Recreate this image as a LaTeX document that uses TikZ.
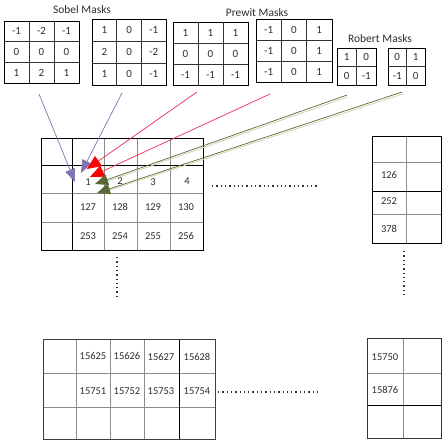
\documentclass[tikz,border=0pt]{standalone}
\usepackage{fontspec}
\setmainfont{Carlito}
\usetikzlibrary{arrows.meta,calc}
\definecolor{txt}{HTML}{2E2E2E}
\definecolor{gline}{HTML}{8C8C8C}
\definecolor{purp}{HTML}{7E76B0}
\definecolor{olivec}{HTML}{5A6834}
\definecolor{palec}{HTML}{C8D6B4}
\definecolor{redline}{HTML}{E8325A}
\newcommand{\drawmask}[7]{%
  \node[maskbox, minimum width=#6*#4, minimum height=#6*#5, anchor=north west] (#1) at (#2,#3) {};
  \foreach \k in {1,...,#6}{%
    \ifnum\k<#6
      \draw[mline] (#2+\k*#4,#3) -- (#2+\k*#4,#3+#6*#5);
      \draw[mline] (#2,#3+\k*#5) -- (#2+#6*#4,#3+\k*#5);
    \fi}
  \foreach \c/\r/\v in {#7}{%
    \node[masknum] (#1-\r-\c) at (#2+\c*#4-#4/2,#3+\r*#5-#5/2) {\v};}
}
\begin{document}
\begin{tikzpicture}[x=1pt,y=-1pt,
  num/.style={font=\fontsize{10.5}{12}\selectfont, text=txt, inner sep=0pt},
  masknum/.style={font=\fontsize{11}{13}\selectfont, text=txt, inner sep=0pt},
  titletxt/.style={font=\fontsize{11.5}{13}\selectfont, text=txt, inner sep=0pt},
  maskbox/.style={draw=black, line width=0.8pt, inner sep=0pt, outer sep=0pt},
  mline/.style={line width=0.7pt, draw=black!80},
  gl/.style={line width=0.6pt, draw=gline},
  bl/.style={line width=0.8pt, draw=black},
  dotsh/.style={line width=1.6pt, dash pattern=on 1.3pt off 3pt, draw=black!80},
  parr/.style={draw=purp, line width=0.7pt, -{Triangle[length=13pt,width=10pt]}},
  rarr/.style={draw=redline, line width=0.7pt, -{Triangle[length=14pt,width=12pt,color=red]}},
  oarr/.style={draw=olivec, line width=0.7pt, -{Triangle[length=13pt,width=11pt]}},
  oshadow/.style={draw=palec, line width=0.8pt}]
\useasboundingbox[fill=white] (0,0) rectangle (444,446);

% titles
\node[titletxt] (tsobel) at (82,10) {Sobel Masks};
\node[titletxt] (tprewit) at (257,13) {Prewit Masks};
\node[titletxt] (trobert) at (380,39) {Robert Masks};

% masks
\drawmask{sobA}{4}{21}{25}{20.7}{3}{1/1/-1,2/1/-2,3/1/-1,1/2/0,2/2/0,3/2/0,1/3/1,2/3/2,3/3/1}
\drawmask{sobB}{92}{19}{24.7}{22}{3}{1/1/1,2/1/0,3/1/-1,1/2/2,2/2/0,3/2/-2,1/3/1,2/3/0,3/3/-1}
\drawmask{preA}{173}{22}{25}{21.3}{3}{1/1/1,2/1/1,3/1/1,1/2/0,2/2/0,3/2/0,1/3/-1,2/3/-1,3/3/-1}
\drawmask{preB}{256}{19}{25.3}{21.3}{3}{1/1/-1,2/1/0,3/1/1,1/2/-1,2/2/0,3/2/1,1/3/-1,2/3/0,3/3/1}
\drawmask{robA}{337}{48}{19.5}{18.5}{2}{1/1/1,2/1/0,1/2/0,2/2/-1}
\drawmask{robB}{388}{48}{18.5}{18.5}{2}{1/1/0,2/1/1,1/2/-1,2/2/0}

% main grid
\foreach \xx in {104,137,170} \draw[gl] (\xx,138) -- (\xx,250);
\foreach \yy in {193,222} \draw[gl] (41,\yy) -- (203,\yy);
\draw[bl] (72,138) -- (72,250);
\draw[bl] (41,165) -- (203,165);
\draw[bl] (41,138) rectangle (203,250);
\node[num] (m1) at (88,182) {1};
\node[num] (m2) at (120,181) {2};
\node[num] (m3) at (153,182) {3};
\node[num] (m4) at (187,181) {4};
\node[num] (m127) at (88,207) {127};
\node[num] (m128) at (120,207) {128};
\node[num] (m129) at (153,207) {129};
\node[num] (m130) at (186,207) {130};
\node[num] (m253) at (88,236) {253};
\node[num] (m254) at (120,236) {254};
\node[num] (m255) at (153,236) {255};
\node[num] (m256) at (186,236) {256};

% top right grid
\draw[gl] (406,136) -- (406,243);
\foreach \yy in {162,214} \draw[gl] (372,\yy) -- (441,\yy);
\draw[bl] (372,191) -- (441,191);
\draw[bl] (372,136) rectangle (441,243);
\node[num] (r126) at (389,175) {126};
\node[num] (r252) at (389,201) {252};
\node[num] (r378) at (389,229) {378};

% bottom left grid
\foreach \xx in {76,110,144} \draw[gl] (\xx,339) -- (\xx,439);
\foreach \yy in {373,407} \draw[gl] (43,\yy) -- (215,\yy);
\draw[bl] (179,339) -- (179,439);
\draw[line width=0.7pt, draw=black!75] (43,339) rectangle (215,439);
\node[num] (b15625) at (93,356) {15625};
\node[num] (b15626) at (127,356) {15626};
\node[num] (b15627) at (161,357) {15627};
\node[num] (b15628) at (197,357) {15628};
\node[num] (b15751) at (93,391) {15751};
\node[num] (b15752) at (127,391) {15752};
\node[num] (b15753) at (161,391) {15753};
\node[num] (b15754) at (197,391) {15754};

% bottom right grid
\draw[gl] (403,338) -- (403,438);
\draw[gl] (367,373) -- (441,373);
\draw[bl] (367,405) -- (441,405);
\draw[line width=0.7pt, draw=black!80] (367,338) rectangle (441,438);
\node[num] (c15750) at (385,357) {15750};
\node[num] (c15876) at (385,390) {15876};

% dotted continuations
\coordinate (dh1a) at (212,186); \coordinate (dh1b) at (318,186);
\coordinate (dh2a) at (218,392); \coordinate (dh2b) at (318,392);
\coordinate (dv1a) at (117,257); \coordinate (dv1b) at (117,296);
\coordinate (dv2a) at (404,251); \coordinate (dv2b) at (404,297);
\draw[dotsh] (dh1a) -- (dh1b);
\draw[dotsh] (dh2a) -- (dh2b);
\draw[dotsh] (dv1a) -- (dv1b);
\draw[dotsh] (dv2a) -- (dv2b);

% arrow start / end points
\coordinate (sA) at (39,94);   \coordinate (eA) at (75,182);
\coordinate (sB) at (122,93);  \coordinate (eB) at (81,173);
\coordinate (sC) at (197,92);  \coordinate (eC) at (87,169);
\coordinate (sD) at (270,94);  \coordinate (eD) at (90,177);
\coordinate (sE) at (347,95);  \coordinate (eE) at (95,184);
\coordinate (sF) at (402,92);  \coordinate (eF) at (97,193);

\draw[parr] (sA) -- (eA);
\draw[parr] (sB) -- (eB);
\draw[rarr] (sC) -- (eC);
\draw[rarr] (sD) -- (eD);
\draw[oshadow] ($(sE)+(0.5,2)$) -- ($(eE)+(10,-2)$);
\draw[oshadow] ($(sF)+(0.5,2)$) -- ($(eF)+(10,-2)$);
\draw[oarr] (sE) -- (eE);
\draw[oarr] (sF) -- (eF);
\end{tikzpicture}
\end{document}
